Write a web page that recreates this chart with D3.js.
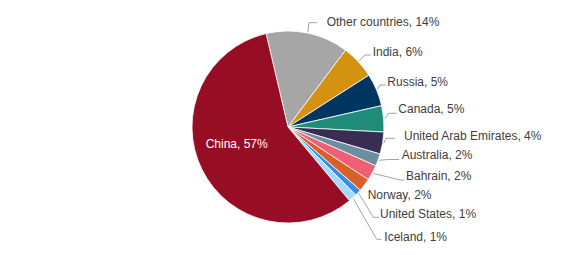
<!DOCTYPE html>
<html>
<head>
<meta charset="utf-8">
<script src="https://cdn.jsdelivr.net/npm/d3@7"></script>
<style>
body { margin: 0; background: #fff; }
text { font-family: "Liberation Sans", Arial, sans-serif; font-size: 12px; }
</style>
</head>
<body>
<div class="chart"></div>
<script>
// data (share of production, %)
var countries = ["Other countries", "India", "Russia", "Canada", "United Arab Emirates",
	"Australia", "Bahrain", "Norway", "United States", "Iceland", "China"];
var shares = [13.9, 5.7, 5.5, 4.4, 3.7, 2.1, 2.6, 2.2, 1.1, 1.4, 57.4];
var shareLabels = ["14%", "6%", "5%", "5%", "4%", "2%", "2%", "2%", "1%", "1%", "57%"];
var colors = ["#A6A6A6", "#D39210", "#00355F", "#1E8C78", "#392D52",
	"#6B8E9E", "#F15F74", "#D8602A", "#3A8EE6", "#A8D8F8", "#970D23"];

// label layout: elbow point, line end x, text x, text middle y (null = no leader)
var labelPos = [
	{ex: 309, ey: 22.7, lx: 317, tx: 326.7, ty: 21.7},
	{ex: 365, ey: 55, lx: 370.7, tx: 372.7, ty: 51.7},
	{ex: 380, ey: 85, lx: 386, tx: 387.3, ty: 81.7},
	{ex: 388.3, ey: 113.3, lx: 396.7, tx: 398.3, ty: 108.3},
	{ex: 386, ey: 138.3, lx: 395, tx: 404, ty: 135.7},
	{ex: 388, ey: 159.5, lx: 399, tx: 401.7, ty: 155},
	{ex: 400, ey: 180, lx: 404, tx: 406, ty: 175.7},
	null,
	{ex: 373.3, ey: 217.3, lx: 379, tx: 380, ty: 214},
	{ex: 376.7, ey: 239.3, lx: 381.7, tx: 384.3, ty: 236.7},
	null
];
var textOnly = [null, null, null, null, null, null, null, {tx: 367.7, ty: 195}, null, null, {tx: 236.7, ty: 144}];

var width = 576;
var height = 255;
var cx = 288, cy = 127, radius = 96;
var startDeg = -13.2;

var svg = d3.select(".chart")
	.append("svg")
	.attr("width", width)
	.attr("height", height);

var pie = d3.pie()
	.sort(null)
	.value(function(d) { return d; })
	.startAngle(startDeg * Math.PI / 180)
	.endAngle(startDeg * Math.PI / 180 + 2 * Math.PI);

var arcs = pie(shares);

var arc = d3.arc().innerRadius(0).outerRadius(radius);
var edge = d3.arc().innerRadius(radius + 1).outerRadius(radius + 1);

var g = svg.append("g").attr("transform", "translate(" + cx + "," + cy + ")");

g.selectAll("path.slice")
	.data(arcs)
	.enter()
	.append("path")
	.attr("class", "slice")
	.attr("d", arc)
	.attr("fill", function(d, i) { return colors[i]; })
	.attr("stroke", "#fff")
	.attr("stroke-width", 0.8);

// leader lines
svg.selectAll("polyline.leader")
	.data(arcs.filter(function(d, i) { return labelPos[i]; }))
	.enter()
	.append("polyline")
	.attr("class", "leader")
	.attr("points", function(d) {
		var p = labelPos[d.index];
		var c = edge.centroid(d);
		return [[cx + c[0], cy + c[1]], [p.ex, p.ey], [p.lx, p.ey]].map(function(q) { return q.join(","); }).join(" ");
	})
	.attr("fill", "none")
	.attr("stroke", "#8C8C8C")
	.attr("stroke-width", 0.8);

// labels
svg.selectAll("text.lbl")
	.data(arcs)
	.enter()
	.append("text")
	.attr("class", "lbl")
	.attr("x", function(d, i) { return (labelPos[i] || textOnly[i]).tx; })
	.attr("y", function(d, i) { return (labelPos[i] || textOnly[i]).ty + 4.3; })
	.attr("text-anchor", function(d, i) { return countries[i] == "China" ? "middle" : "start"; })
	.attr("fill", function(d, i) { return countries[i] == "China" ? "#fff" : "#404040"; })
	.text(function(d, i) { return countries[i] + ", " + shareLabels[i]; });
</script>
</body>
</html>
